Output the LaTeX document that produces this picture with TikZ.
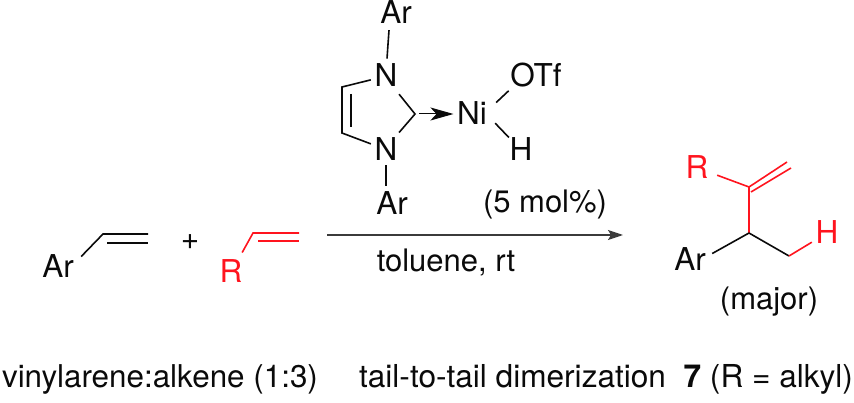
\documentclass[tikz,border=0pt]{standalone}
\usepackage{fontspec}
\setmainfont{TeX Gyre Heros}
\usetikzlibrary{arrows.meta}
\definecolor{redbond}{RGB}{255,20,30}
\definecolor{ink}{RGB}{10,10,10}
\tikzset{
  atom/.style={anchor=base,inner sep=1.5pt,font=\fontsize{31.5}{36}\selectfont,text=ink},
  ratom/.style={atom,text=redbond},
  label/.style={anchor=base,inner sep=0pt,font=\fontsize{31}{37}\selectfont,text=ink},
  bond/.style={draw=ink,line width=1.6pt,line join=miter},
  rbond/.style={draw=redbond,line width=1.6pt,line join=miter},
  dative/.style={draw=ink,line width=1pt,-{Stealth[length=23pt,width=13pt,inset=6pt]}},
  rxn/.style={draw=ink!80,line width=1.5pt,-{Stealth[length=15pt,width=10pt,inset=3pt]}}
}
\begin{document}
\begin{tikzpicture}[x=1pt,y=-1pt]
\useasboundingbox (0,0) rectangle (854,403);
% catalyst
\node[atom] (arT) at (396,24) {Ar};
\node[atom] (nT) at (386,87) {N};
\node[atom] (nB) at (386,161) {N};
\node[atom] (arB) at (392,215) {Ar};
\node[atom] (ni) at (472,125) {Ni};
\node[atom] (otf) at (536,87) {OTf};
\node[atom] (hNi) at (521,161) {H};
\coordinate (c4) at (342,87);
\coordinate (c5) at (342,133);
\coordinate (c4i) at (351,94);
\coordinate (c5i) at (351,127);
\coordinate (c2) at (415,114);
\draw[bond] ([shift={(-7,4.5)}]arT.south) -- ([shift={(1,-3.8)}]nT.north);
\draw[bond] ([shift={(0,2.5)}]nB.south) -- ([shift={(-6,-4.8)}]arB.north);
\draw[bond] ([shift={(-2.1,4.35)}]nT.west) -- (c4) -- (c5) -- ([shift={(-2.1,-5.65)}]nB.west);
\draw[bond] (c4i) -- (c5i);
\draw[bond] ([shift={(0,5.5)}]nT.south east) -- (c2) -- ([shift={(0,-3.8)}]nB.north east);
\coordinate (dstart) at (419,114);
\draw[dative,shorten >=2pt] (dstart) -- (ni.west |- dstart);
\draw[bond] ([shift={(7.6,2.2)}]ni.north east) -- ([shift={(0,1.5)}]otf.south west);
\draw[bond] ([shift={(6.6,-3.5)}]ni.south east) -- ([shift={(1,1.2)}]hNi.north west);
\node[label] (cat) at (545,213) {(5 mol\%)};
% reactants
\node[atom] (ar1) at (58,278) {Ar};
\coordinate (v1) at (103,234);
\coordinate (v2) at (148,234);
\coordinate (v1i) at (107,243);
\coordinate (v2i) at (148,243);
\draw[bond] ([shift={(5.75,3.2)}]ar1.north east) -- (v1) -- (v2);
\draw[bond] (v1i) -- (v2i);
\node[atom] (plus) at (190,250) {+};
\node[ratom] (r1) at (231,283) {R};
\coordinate (w1) at (253,233);
\coordinate (w2) at (299,233);
\coordinate (w1i) at (258,241);
\coordinate (w2i) at (299,241);
\draw[rbond] ([shift={(-1.9,-5.8)}]r1.north east) -- (w1) -- (w2);
\draw[rbond] (w1i) -- (w2i);
% arrow
\coordinate (a1) at (327,235);
\coordinate (a2) at (623,235);
\draw[rxn] (a1) -- (a2);
\node[label] (cond) at (446,272) {toluene, rt};
% product
\node[ratom] (r2) at (697,179) {R};
\node[atom] (ar2) at (690,271) {Ar};
\node[ratom] (h2) at (827,244) {H};
\coordinate (p1) at (749,187);
\coordinate (p2) at (787,162);
\coordinate (p1i) at (751,192);
\coordinate (p2i) at (791,168);
\coordinate (p3) at (749,233);
\coordinate (p4) at (789,256);
\draw[rbond] ([shift={(7.1,-5.5)}]r2.south east) -- (p1) -- (p2);
\draw[rbond] (p1i) -- (p2i);
\draw[rbond] (p1) -- (p3);
\draw[bond] (p3) -- ([shift={(4.75,7.2)}]ar2.north east);
\draw[bond] (p3) -- (p4);
\draw[rbond] (p4) -- ([shift={(-2.1,-3.5)}]h2.south west);
\node[label] (maj) at (769,309) {(major)};
% captions
\node[label,font=\fontsize{31.4}{37}\selectfont] (c1) at (160,387) {vinylarene:alkene (1:3)};
\node[label,font=\fontsize{31.6}{37}\selectfont] (c2t) at (606,387) {tail-to-tail dimerization\ \ \textbf{7} (R = alkyl)};
\end{tikzpicture}
\end{document}
